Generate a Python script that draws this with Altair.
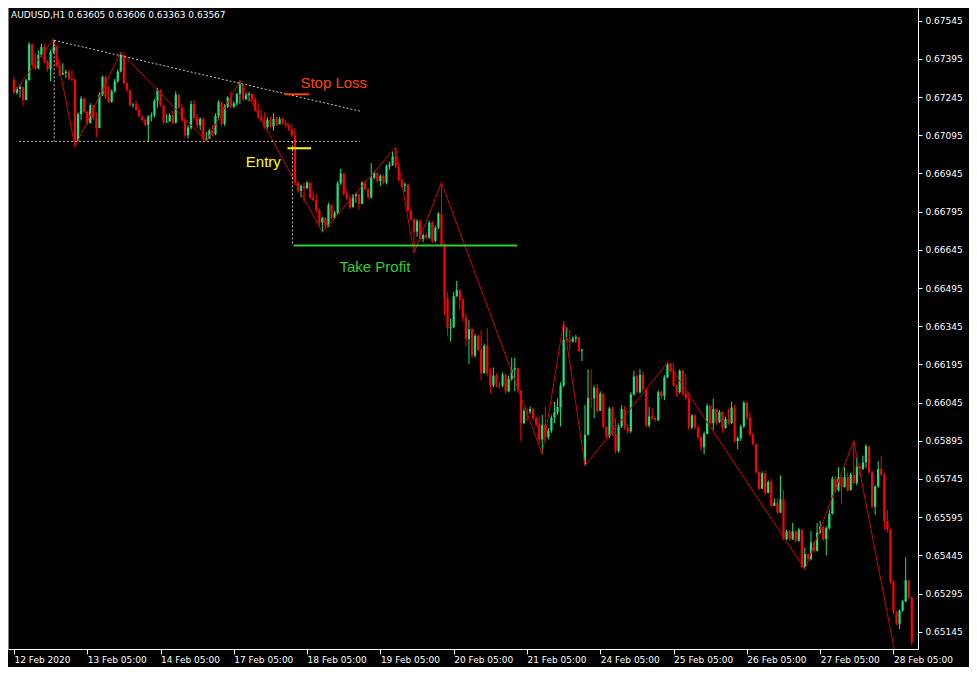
import altair as alt
import pandas as pd

# ---------------- data (prices in 1e-5 units) ----------------
HEADER = "AUDUSD,H1  0.63605 0.63606 0.63363 0.63567"
OPEN0 = 67313
gap_open_pts = {187: 65804}

close_pts = [
    67262, 67277, 67285, 67234, 67311, 67452, 67371, 67358, 67410, 67442,
    67384, 67354, 67422, 67444, 67367, 67333, 67339, 67345, 67316, 67313,
    67072, 67178, 67239, 67187, 67144, 67213, 67162, 67123, 67255, 67324,
    67243, 67226, 67268, 67307, 67345, 67410, 67300, 67272, 67213, 67216,
    67195, 67169, 67156, 67136, 67169, 67174, 67230, 67272, 67213, 67146,
    67149, 67174, 67144, 67255, 67204, 67153, 67095, 67125, 67217, 67163,
    67134, 67159, 67079, 67082, 67114, 67099, 67172, 67224, 67140, 67207,
    67243, 67207, 67220, 67258, 67294, 67237, 67253, 67258, 67237, 67192,
    67166, 67153, 67127, 67156, 67130, 67159, 67138, 67159, 67143, 67134,
    67117, 67095, 66909, 66877, 66896, 66886, 66909, 66851, 66841, 66800,
    66752, 66770, 66739, 66821, 66770, 66791, 66906, 66945, 66864, 66847,
    66812, 66857, 66863, 66825, 66909, 66883, 66851, 66928, 66947, 66915,
    66935, 66909, 66973, 66979, 67012, 66973, 66922, 66896, 66902, 66800,
    66765, 66716, 66757, 66688, 66703, 66693, 66752, 66680, 66732, 66787,
    66665, 66453, 66337, 66341, 66463, 66487, 66449, 66378, 66294, 66333,
    66230, 66307, 66253, 66160, 66269, 66160, 66112, 66151, 66115, 66112,
    66154, 66089, 66138, 66174, 66180, 66093, 65964, 66012, 66009, 66020,
    65983, 65958, 65900, 65958, 65909, 65935, 65986, 66007, 66028, 66112,
    66292, 66294, 66285, 66297, 66302, 66249, 66253, 65919, 66063, 66061,
    66102, 66012, 66080, 65951, 65913, 66022, 65922, 65855, 65951, 66019,
    65947, 65932, 66077, 66148, 66086, 66154, 66097, 65955, 65990, 65984,
    65977, 66086, 66071, 66144, 66192, 66170, 66112, 66086, 66170, 66080,
    66063, 65947, 65994, 65947, 65909, 65870, 65922, 66032, 65964, 66019,
    65968, 66009, 65945, 65981, 65964, 66025, 65894, 65906, 65951, 66045,
    65986, 65919, 65881, 65771, 65707, 65767, 65690, 65733, 65639, 65652,
    65613, 65665, 65510, 65539, 65508, 65539, 65502, 65546, 65399, 65450,
    65431, 65495, 65463, 65534, 65557, 65508, 65552, 65608, 65746, 65701,
    65752, 65714, 65752, 65701, 65762, 65729, 65793, 65784, 65810, 65874,
    65771, 65636, 65716, 65784, 65762, 65579, 65546, 65343, 65223, 65176,
    65228, 65264, 65347, 65279, 65105,
]
high_pts = [
    67326, 67285, 67294, 67255, 67316, 67461, 67455, 67416, 67429, 67455,
    67452, 67390, 67431, 67474, 67448, 67390, 67378, 67352, 67354, 67352,
    67320, 67185, 67249, 67243, 67191, 67221, 67213, 67185, 67264, 67329,
    67329, 67288, 67275, 67316, 67354, 67422, 67413, 67303, 67275, 67221,
    67230, 67211, 67174, 67162, 67174, 67185, 67239, 67281, 67275, 67200,
    67178, 67182, 67191, 67268, 67237, 67217, 67159, 67134, 67230, 67233,
    67179, 67166, 67166, 67108, 67121, 67134, 67181, 67233, 67230, 67217,
    67249, 67266, 67228, 67262, 67310, 67292, 67262, 67266, 67253, 67246,
    67220, 67194, 67185, 67166, 67168, 67181, 67168, 67168, 67166, 67156,
    67143, 67140, 67125, 66915, 66902, 66909, 66915, 66909, 66877, 66864,
    66808, 66775, 66775, 66830, 66825, 66798, 66915, 66963, 66939, 66880,
    66864, 66864, 66870, 66864, 66915, 66920, 66890, 66986, 66955, 66950,
    66941, 66941, 66980, 66992, 67031, 67048, 66980, 66925, 66910, 66902,
    66805, 66770, 66765, 66765, 66710, 66710, 66760, 66758, 66740, 66793,
    66909, 66670, 66478, 66375, 66480, 66523, 66490, 66455, 66395, 66369,
    66340, 66315, 66311, 66330, 66277, 66337, 66180, 66183, 66160, 66125,
    66163, 66160, 66150, 66221, 66221, 66183, 66093, 66022, 66025, 66030,
    66025, 65990, 65990, 65996, 66028, 65945, 65995, 66048, 66061, 66125,
    66363, 66341, 66330, 66305, 66311, 66294, 66256, 66035, 66176, 66176,
    66112, 66118, 66089, 66073, 65951, 66028, 66028, 65984, 65960, 66035,
    66032, 65960, 66086, 66170, 66157, 66176, 66170, 66099, 66028, 66022,
    65990, 66093, 66093, 66153, 66202, 66200, 66202, 66115, 66176, 66176,
    66157, 66086, 66000, 66000, 65955, 65915, 65932, 66041, 66035, 66061,
    66022, 66016, 66009, 65990, 66022, 66048, 66035, 65913, 65958, 66050,
    66048, 66009, 65925, 65885, 65775, 65775, 65778, 65739, 65746, 65669,
    65669, 65759, 65701, 65545, 65545, 65572, 65545, 65553, 65546, 65476,
    65450, 65540, 65500, 65572, 65579, 65562, 65559, 65624, 65755, 65755,
    65791, 65755, 65791, 65771, 65770, 65895, 65829, 65797, 65836, 65881,
    65832, 65778, 65720, 65816, 65836, 65770, 65624, 65550, 65345, 65225,
    65232, 65270, 65437, 65347, 65285,
]
low_pts = [
    67255, 67255, 67243, 67211, 67234, 67311, 67365, 67349, 67354, 67403,
    67378, 67345, 67307, 67416, 67362, 67326, 67333, 67320, 67311, 67307,
    67050, 67076, 67153, 67182, 67133, 67140, 67156, 67088, 67123, 67249,
    67236, 67221, 67223, 67262, 67300, 67342, 67294, 67264, 67208, 67204,
    67190, 67164, 67149, 67131, 67069, 67149, 67165, 67204, 67208, 67139,
    67144, 67149, 67139, 67141, 67198, 67147, 67086, 67082, 67117, 67156,
    67121, 67114, 67073, 67072, 67081, 67091, 67095, 67156, 67130, 67132,
    67202, 67202, 67202, 67211, 67217, 67228, 67233, 67228, 67228, 67185,
    67159, 67147, 67121, 67120, 67125, 67112, 67132, 67143, 67138, 67125,
    67112, 67089, 66899, 66870, 66851, 66832, 66886, 66845, 66835, 66790,
    66735, 66714, 66730, 66735, 66765, 66765, 66785, 66900, 66858, 66840,
    66805, 66815, 66830, 66803, 66825, 66877, 66845, 66845, 66922, 66908,
    66896, 66902, 66902, 66960, 66975, 66965, 66915, 66890, 66873, 66795,
    66758, 66633, 66697, 66680, 66675, 66688, 66688, 66672, 66675, 66725,
    66660, 66388, 66305, 66285, 66337, 66460, 66408, 66363, 66266, 66196,
    66220, 66221, 66245, 66131, 66163, 66150, 66080, 66105, 66105, 66100,
    66105, 66080, 66085, 66130, 66090, 66086, 65894, 65960, 65971, 66000,
    65975, 65950, 65881, 65842, 65900, 65900, 65926, 65964, 65996, 65951,
    66105, 66285, 66253, 66280, 66280, 66243, 66208, 65797, 65915, 66022,
    65983, 66005, 66048, 65945, 65906, 65906, 65915, 65845, 65848, 65945,
    65938, 65922, 65926, 66073, 66080, 66080, 66090, 65947, 65947, 65977,
    65971, 65971, 66060, 66054, 66140, 66165, 66106, 66067, 66080, 66073,
    66054, 65938, 65940, 65938, 65900, 65855, 65842, 65920, 65958, 65938,
    65958, 65964, 65926, 65942, 65958, 65960, 65887, 65861, 65894, 65945,
    65977, 65913, 65875, 65765, 65701, 65705, 65681, 65688, 65634, 65643,
    65608, 65611, 65505, 65505, 65502, 65505, 65495, 65498, 65395, 65390,
    65424, 65425, 65455, 65460, 65528, 65500, 65444, 65546, 65605, 65695,
    65695, 65649, 65710, 65695, 65700, 65720, 65720, 65759, 65780, 65788,
    65765, 65630, 65604, 65710, 65755, 65546, 65534, 65334, 65212, 65171,
    65155, 65223, 65260, 65274, 65090,
]

# zigzag vertices (bar index, price pts)
zz_bar = [0, 13, 20, 35, 63, 74, 101, 125, 131, 140, 173, 180, 187, 214, 259, 275, 289.5]
zz_pts = [67262, 67474, 67050, 67422, 67072, 67310, 66714, 67048, 66633, 66909,
          65842, 66363, 65797, 66202, 65390, 65895, 65000]

# dotted drawing lines (bar from, bar to, price from, price to)
dot_bar1 = [13.2, 1.7, 13.2, 91.2]
dot_bar2 = [113.3, 113.3, 13.2, 91.2]
dot_p1 = [67468, 67071, 67468, 67071]
dot_p2 = [67190, 67071, 67071, 66662]

# trade levels
lvl_name = ["Stop Loss", "Entry", "Take Profit"]
lvl_bar1 = [88.7, 89.6, 91.6]
lvl_bar2 = [96.7, 97.3, 164.8]
lvl_pts = [67256, 67044, 66662]
lvl_color = ["#FF4500", "#FFFF00", "#32CD32"]
lbl_bar = [93.8, 87.4, 106.6]
lbl_pts = [67302, 66990, 66577]

time_tick_bars = [0, 24, 48, 72, 96, 120, 144, 168, 192, 216, 240, 264, 288]
time_tick_labels = ["12 Feb 2020", "13 Feb 05:00", "14 Feb 05:00", "17 Feb 05:00",
                    "18 Feb 05:00", "19 Feb 05:00", "20 Feb 05:00", "21 Feb 05:00",
                    "24 Feb 05:00", "25 Feb 05:00", "26 Feb 05:00", "27 Feb 05:00",
                    "28 Feb 05:00"]
price_ticks = [0.67545, 0.67395, 0.67245, 0.67095, 0.66945, 0.66795, 0.66645, 0.66495,
               0.66345, 0.66195, 0.66045, 0.65895, 0.65745, 0.65595, 0.65445, 0.65295,
               0.65145]

# ---------------- build tables ----------------
n = min(len(close_pts), len(high_pts), len(low_pts))
rows = []
prev = OPEN0
for i in range(n):
    o = gap_open_pts.get(i, prev)
    c = close_pts[i]
    h = max(high_pts[i], o, c)
    l = min(low_pts[i], o, c)
    rows.append(dict(i=i, open=o / 1e5, close=c / 1e5, high=h / 1e5, low=l / 1e5,
                     dir="up" if c >= o else "down"))
    prev = c
bars = pd.DataFrame(rows)

zz = pd.DataFrame({"i": zz_bar, "price": [p / 1e5 for p in zz_pts]})
dots = pd.DataFrame({"i": dot_bar1, "i2": dot_bar2,
                     "p": [p / 1e5 for p in dot_p1], "p2": [p / 1e5 for p in dot_p2]})
lvls = pd.DataFrame({"name": lvl_name, "i": lvl_bar1, "i2": lvl_bar2,
                     "p": [p / 1e5 for p in lvl_pts], "col": lvl_color,
                     "li": lbl_bar, "lp": [p / 1e5 for p in lbl_pts]})

# ---------------- chart ----------------
W, H = 910, 641
GREEN, RED = "#17E57C", "#FF0000"
AX_FONT = "DejaVu Sans"

xs = alt.Scale(domain=[-0.3, 294.4], nice=False, zero=False)
ys = alt.Scale(domain=[0.65077, 0.67595], nice=False, zero=False)

label_expr = " : ".join(f"datum.value == {b} ? '{t}'" for b, t in zip(time_tick_bars, time_tick_labels)) + " : ''"

xaxis = alt.Axis(values=time_tick_bars, labelExpr=label_expr, orient="bottom", title=None,
                 grid=False, domainColor="#FFFFFF", tickColor="#FFFFFF", tickSize=5,
                 labelColor="#FFFFFF", labelFont=AX_FONT, labelFontSize=9,
                 labelAlign="left", labelBaseline="top", labelPadding=1,
                 labelFlush=False, labelOverlap=False)
yaxis = alt.Axis(values=price_ticks, format=".5f", orient="right", title=None, grid=False,
                 domainColor="#FFFFFF", tickColor="#FFFFFF", tickSize=4,
                 labelColor="#FFFFFF", labelFont=AX_FONT, labelFontSize=9,
                 labelPadding=3, labelFlush=False, labelOverlap=False)


def X(field):
    return alt.X(field, scale=xs, axis=xaxis, title=None)


def Y(field):
    return alt.Y(field, scale=ys, axis=yaxis, title=None)


color = alt.Color("dir:N", scale=alt.Scale(domain=["up", "down"], range=[GREEN, RED]), legend=None)

wicks = alt.Chart(bars).mark_rule(strokeWidth=1, clip=True).encode(
    x=X("i:Q"), y=Y("low:Q"), y2="high:Q", color=color,
)
bodies = alt.Chart(bars).mark_bar(size=2.2, clip=True).encode(
    x=X("i:Q"), y=Y("open:Q"), y2="close:Q", color=color,
)
zigzag = alt.Chart(zz).mark_line(color="#D00000", strokeWidth=1, clip=True).encode(
    x=X("i:Q"), y=Y("price:Q"),
)
dotted = alt.Chart(dots).mark_rule(color="#C8C8C8", strokeDash=[2, 2], strokeWidth=1, clip=True).encode(
    x=X("i:Q"), x2="i2:Q", y=Y("p:Q"), y2="p2:Q",
)
levels = alt.Chart(lvls).mark_rule(strokeWidth=2, clip=True).encode(
    x=X("i:Q"), x2="i2:Q", y=Y("p:Q"), color=alt.Color("col:N", scale=None),
)
txt_left = alt.Chart(lvls).transform_filter("datum.name != 'Entry'").mark_text(
    align="left", baseline="middle", font="Liberation Sans", fontSize=15).encode(
    x=X("li:Q"), y=Y("lp:Q"), text="name:N", color=alt.Color("col:N", scale=None),
)
txt_right = alt.Chart(lvls).transform_filter("datum.name == 'Entry'").mark_text(
    align="right", baseline="middle", font="Liberation Sans", fontSize=15).encode(
    x=X("li:Q"), y=Y("lp:Q"), text="name:N", color=alt.Color("col:N", scale=None),
)
header = alt.Chart(pd.DataFrame({"t": [HEADER]})).mark_text(
    align="left", baseline="top", color="#FFFFFF", font=AX_FONT, fontSize=9).encode(
    x=alt.value(3), y=alt.value(3), text="t:N")
border = alt.Chart(pd.DataFrame({"a": [0]})).mark_rule(color="#808080", strokeWidth=1).encode(
    x=alt.value(0.5), y=alt.value(0), y2=alt.value(H))

chart = alt.layer(wicks, bodies, zigzag, dotted, levels, txt_left, txt_right, header, border).properties(
    width=W, height=H,
    background="#000000",
    padding={"left": 0, "top": 0, "right": 51, "bottom": 18},
    autosize=alt.AutoSizeParams(type="none"),
).configure_view(strokeWidth=0)

chart.save("out.html", embed_options={"renderer": "svg", "actions": False})
